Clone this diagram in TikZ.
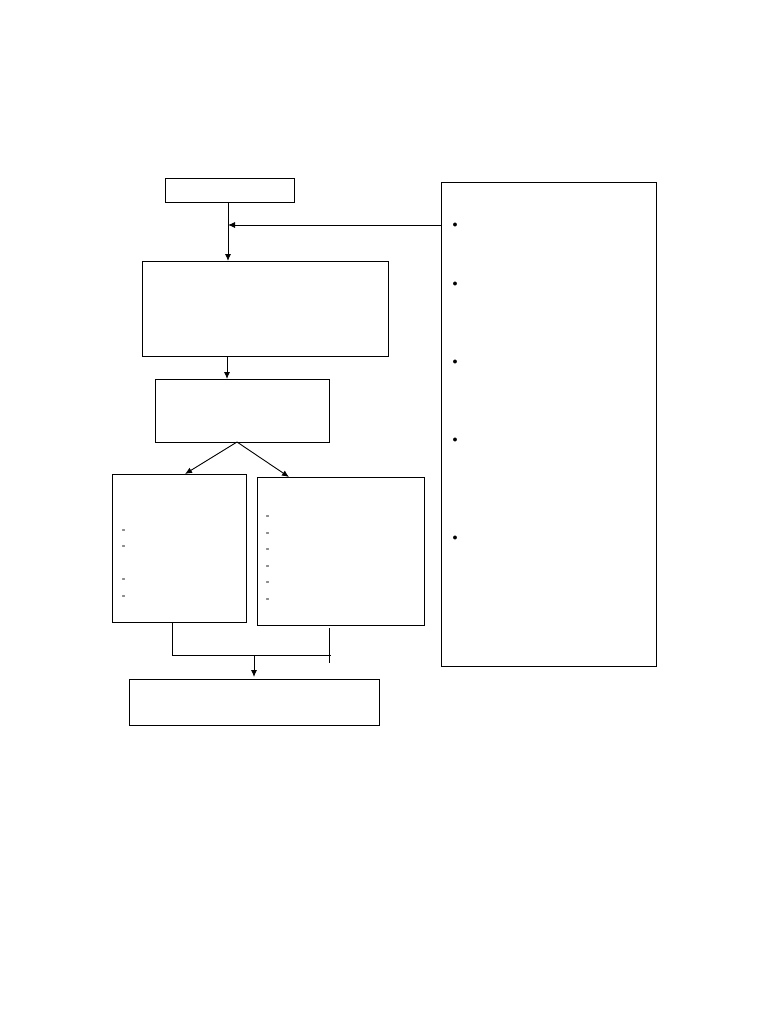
\documentclass[tikz,border=0pt]{standalone}
\usepackage{amssymb}
\usetikzlibrary{arrows.meta}
\tikzset{box/.style={draw, line width=0.9pt, inner sep=0pt, outer sep=0pt},
  dotmark/.style={inner sep=0pt, font=\normalsize},
  dashmark/.style={inner sep=0pt, font=\small\bfseries},
  link/.style={line width=0.9pt}}
\begin{document}
\begin{tikzpicture}[x=1pt, y=-1pt, >={Latex[length=7pt,width=6pt]}]
\useasboundingbox (0,0) rectangle (768,1024);
\node[box, minimum width=129pt, minimum height=24pt] (start) at (229.5,190) {};
\node[box, minimum width=246pt, minimum height=95pt] (intro) at (265,308.5) {};
\node[box, minimum width=174pt, minimum height=63pt] (split) at (242,410.5) {};
\node[box, minimum width=134pt, minimum height=148pt] (left) at (179,548) {};
\node[box, minimum width=167pt, minimum height=148pt] (right) at (340.5,551) {};
\node[box, minimum width=250pt, minimum height=46pt] (result) at (254,702) {};
\node[box, minimum width=215pt, minimum height=484pt] (side) at (548.5,424) {};
% bullets and dashes
\foreach \y in {225,284,362,440,538}
  \node[dotmark] at (455,\y) {$\bullet$};
\foreach \y in {531,547,580,597}
  \node[dashmark] at (124,\y) {-};
\foreach \y in {517,534,550,567,583,600}
  \node[dashmark] at (268,\y) {-};
% connectors
\coordinate (join) at (228,225);
\draw [link, ->] (start.south -| join) -- (intro.north -| join);
\draw [link, ->] (side.west |- join) -- (join);
\draw [link, ->] (intro.south -| 227,0) -- (split.north -| 227,0);
\draw [link, ->] (split.south -| 237,0) -- (left.north -| 185,0);
\draw [link, ->] (split.south -| 237,0) -- (right.north -| 289,0);
\coordinate (mergeL) at (172,655);
\coordinate (mergeR) at (331,655);
\draw [link] (left.south -| mergeL) -- (mergeL) -- (mergeR);
\draw [link] (329,628) -- (329,663);
\draw [link, ->] (result.north |- mergeL) -- ([yshift=2pt]result.north);
\end{tikzpicture}
\end{document}
